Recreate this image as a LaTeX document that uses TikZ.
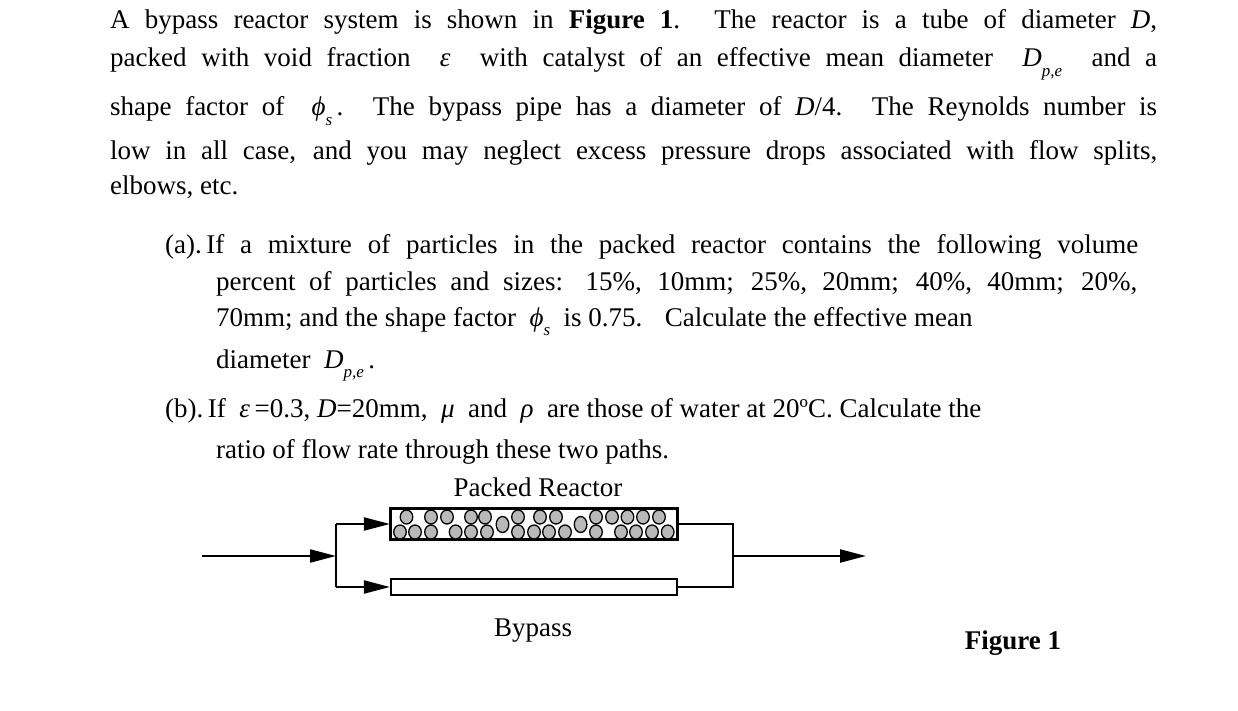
\documentclass[tikz,border=0pt]{standalone}
\usepackage{fontspec}
\setmainfont{Liberation Serif}
\usetikzlibrary{arrows.meta}
\newcommand{\sbs}[1]{\raisebox{-0.35em}{\fontsize{17}{17}\selectfont\textit{#1}}}
\newcommand{\gr}[1]{\textit{#1}}
\begin{document}
\begin{tikzpicture}[x=1pt,y=-1pt,
  txt/.style={anchor=base west,inner sep=0pt,font=\fontsize{27}{32}\selectfont},
  ln/.style={line width=2.2pt},
  arr/.style={ln,-{Triangle[length=26pt,width=13pt]}},
  part/.style={draw,fill=gray!55,line width=1.3pt},
  tube/.style={draw,line width=2.2pt,fill=white}]
\useasboundingbox (0,0) rectangle (1238,711);
% text
\node[txt] (l1) at (110,29) {\hbox to 1047pt{A bypass reactor system is shown in \textbf{Figure 1}. The reactor is a tube of diameter \textit{D},}};
\node[txt] (l2) at (110,67) {\hbox to 1047pt{packed with void fraction \ \gr{ε} \ with catalyst of an effective mean diameter \ \textit{D}\sbs{p,e} \ and a}};
\node[txt] (l3) at (110,116) {\hbox to 1047pt{shape factor of \ \gr{ϕ}\sbs{s}\,. The bypass pipe has a diameter of \textit{D}/4. The Reynolds number is}};
\node[txt] (l4) at (110,160) {\hbox to 1047pt{low in all case, and you may neglect excess pressure drops associated with flow splits,}};
\node[txt] (l5) at (110,195) {elbows, etc.};
\node[txt] (a1) at (165,253) {\hbox to 973pt{(a).\,If a mixture of particles in the packed reactor contains the following volume}};
\node[txt] (a2) at (216,290) {\hbox to 921pt{percent of particles and sizes: 15\%, 10mm; 25\%, 20mm; 40\%, 40mm; 20\%,}};
\node[txt] (a3) at (216,326) {70mm; and the shape factor \ \gr{ϕ}\sbs{s} \ is 0.75. \ \ Calculate the effective mean};
\node[txt] (a4) at (216,368) {diameter \ \textit{D}\sbs{p,e}\,.};
\node[txt] (b1) at (165,417) {(b).\,If \ \gr{ε}\,=0.3, \textit{D}=20mm, \ \gr{μ} \ and \ \gr{ρ} \ are those of water at 20ºC. Calculate the};
\node[txt] (b2) at (216,458) {ratio of flow rate through these two paths.};
\node[txt,anchor=base] (pr) at (538,496) {Packed Reactor};
\node[txt,anchor=base] (bp) at (533,636) {Bypass};
\node[txt,anchor=base] (f1) at (1013,649) {\textbf{Figure 1}};
% figure
\node[tube,minimum width=286pt,minimum height=30pt,inner sep=0pt] (reac) at (534,524) {};
\foreach \x in {406.5,431,447,471,485,518,540,556,596,612,627.5,643,659}
  \draw[part] (\x,517) ellipse (6.3 and 7);
\foreach \x in {400,415,431,455.6,471,487,518,534,549,565,596,621,636,652,667.7}
  \draw[part] (\x,532) ellipse (6.3 and 7);
\foreach \x in {502.5,580.6}
  \draw[part] (\x,524.5) ellipse (6.3 and 8);
\draw[ln] (reac.north west) rectangle (reac.south east);
\node[tube,minimum width=286pt,minimum height=16pt,inner sep=0pt] (byp) at (534,587) {};
\coordinate (in) at (202,556);
\coordinate (jl) at (336,556);
\coordinate (jr) at (733,556);
\coordinate (out) at (866,556);
\draw[arr] (in) -- (jl);
\draw[ln] (jl|-reac.west) -- (jl|-byp.west);
\draw[arr] (jl|-reac.west) -- (reac.west);
\draw[arr] (jl|-byp.west) -- (byp.west);
\draw[ln] (reac.east) -| (jr) |- (byp.east);
\draw[arr] (jr) -- (out);
\end{tikzpicture}
\end{document}
